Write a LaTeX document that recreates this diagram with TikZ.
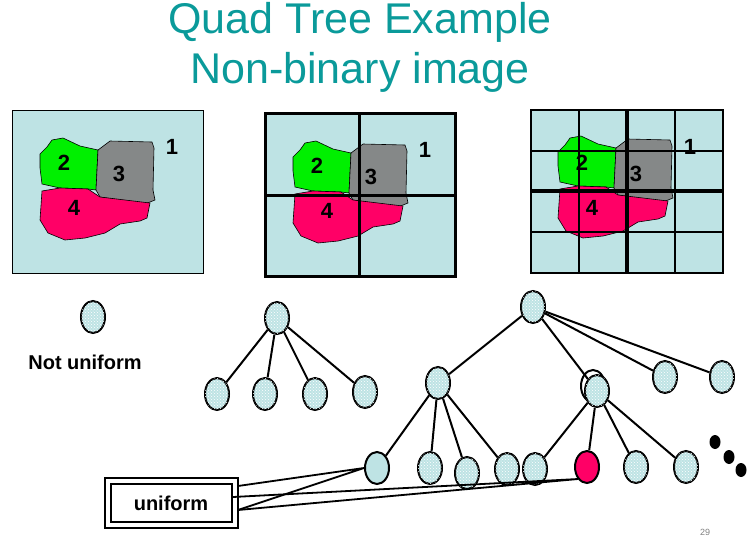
\documentclass[tikz,border=0pt]{standalone}
\usepackage{fontspec}
\setmainfont{Liberation Sans}
\usetikzlibrary{patterns,shapes.geometric}
\definecolor{lb}{HTML}{BEE3E4}
\definecolor{teal2}{HTML}{0A9A9A}
\definecolor{gr}{HTML}{00F000}
\definecolor{pk}{HTML}{FF0066}
\definecolor{gy}{HTML}{858888}
\tikzset{
  tn/.style={ellipse,draw,line width=2pt,minimum width=24pt,minimum height=32pt,inner sep=0pt,
    fill=lb,postaction={pattern=crosshatch dots,pattern color=white}},
  un/.style={ellipse,draw,line width=2pt,minimum width=24pt,minimum height=32pt,inner sep=0pt},
  ed/.style={line width=2pt},
  num/.style={font=\bfseries\fontsize{22}{24}\selectfont},
  lab/.style={font=\bfseries\fontsize{20}{22}\selectfont},
  grid/.style={line width=3pt},
  pics/blobs/.style={code={
    \draw[fill=gr,line width=0.6pt] (40,154) -- (47,147) -- (52,140) -- (63,138) -- (80,146) -- (98,150) -- (96,190) -- (88,189) -- (60,188) -- (42,184) -- (40,168) -- cycle;
    \draw[fill=gy,line width=0.6pt] (98,150) -- (110,141) -- (152,142) -- (154,148) -- (153,190) -- (155,200) -- (145,204) -- (100,197) -- (96,190) -- cycle;
    \draw[fill=pk,line width=0.6pt] (42,191) -- (60,188) -- (88,189) -- (100,197) -- (150,203) -- (147,218) -- (140,221) -- (120,224) -- (105,233) -- (85,238) -- (65,240) -- (48,233) -- (40,220) -- cycle;
  }}
}
\begin{document}
\begin{tikzpicture}[x=1pt,y=-1pt]
\useasboundingbox (0,0) rectangle (749,536);
\node[text=teal2,font=\fontsize{43}{46}\selectfont] (t1) at (360,22) {Quad Tree Example};
\node[text=teal2,font=\fontsize{43}{46}\selectfont] (t2) at (360,72) {Non-binary image};
% panel 1
\draw[fill=lb,line width=1pt] (12,110) rectangle (203,273);
\pic at (0,0) {blobs};
\node[num] (a1) at (172,147) {1};\node[num] (a2) at (64,163) {2};\node[num] (a3) at (119,174) {3};\node[num] (a4) at (74,208) {4};
% panel 2
\fill[lb] (265,113) rectangle (455,276);
\pic at (253,3) {blobs};
\draw[grid] (265,113) rectangle (455,276) (359,113) -- (359,276) (265,195) -- (455,195);
\node[num] (b1) at (425,150) {1};\node[num] (b2) at (317,166) {2};\node[num] (b3) at (371,177) {3};\node[num] (b4) at (327,211) {4};
% panel 3
\fill[lb] (531,110) rectangle (723,273);
\pic at (518,-2) {blobs};
\draw[grid,line width=2.5pt] (531,110) rectangle (723,273);
\foreach \x in {579,627,675} \draw[grid,line width=2.5pt] (\x,110) -- (\x,273);
\foreach \y in {151,191,232} \draw[grid,line width=2.5pt] (531,\y) -- (723,\y);
\draw[grid,line width=3.5pt] (627,110) -- (627,273) (531,191) -- (723,191);
\node[num] (c1) at (690,147) {1};\node[num] (c2) at (582,163) {2};\node[num] (c3) at (636,174) {3};\node[num] (c4) at (592,208) {4};
% legend
\node[tn] (nu) at (93,317) {};
\node[lab] (nut) at (85,362) {Not uniform};
% tree 1
\node[tn] (r1) at (277,318) {};
\foreach \n/\x/\y in {p1/217/394,p2/265/394,p3/315/394,p4/365/392}{
  \node[tn] (\n) at (\x,\y) {};
  \draw[ed] (r1) -- (\n);}
% tree 2
\node[tn] (r2) at (533,307) {};
\node[tn] (q1) at (438,383) {};
\node[un] (q2b) at (593,386) {};
\node[tn] (q2) at (597,391) {};
\node[tn] (q3) at (665,377) {};
\node[tn] (q4) at (722,377) {};
\foreach \n in {q1,q2,q3,q4} \draw[ed] (r2) -- (\n);
\node[un,fill=lb] (s1) at (377,468) {};
\node[tn] (s2) at (430,468) {};
\node[tn] (s3) at (467,473) {};
\node[tn] (s4) at (507,469) {};
\foreach \n in {s1,s2,s3,s4} \draw[ed] (q1) -- (\n);
\node[tn] (u1) at (535,469) {};
\node[un,fill=pk] (u2) at (587,467) {};
\node[tn] (u3) at (636,467) {};
\node[tn] (u4) at (686,467) {};
\foreach \n in {u1,u2,u3,u4} \draw[ed] (q2) -- (\n);
\foreach \n/\x/\y in {d1/715/442,d2/729/457,d3/741/470} \fill (\x,\y) ellipse (5.5pt and 7pt);
% callout
\draw[line width=2pt] (105,478) rectangle (238,528);
\draw[line width=2pt,fill=white] (111,484) rectangle (232,522);
\node[lab] (uf) at (171,503) {uniform};
\coordinate (k1) at (238,486);
\coordinate (k2) at (233,497);
\coordinate (k3) at (238,510);
\draw[line width=1.8pt] (k1) -- (s1.west) -- (k3);
\draw[line width=1.8pt] (k2) -- (u2.south west) -- (k3);
\node[font=\small,text=gray] (pg) at (705,532) {29};
\end{tikzpicture}
\end{document}
